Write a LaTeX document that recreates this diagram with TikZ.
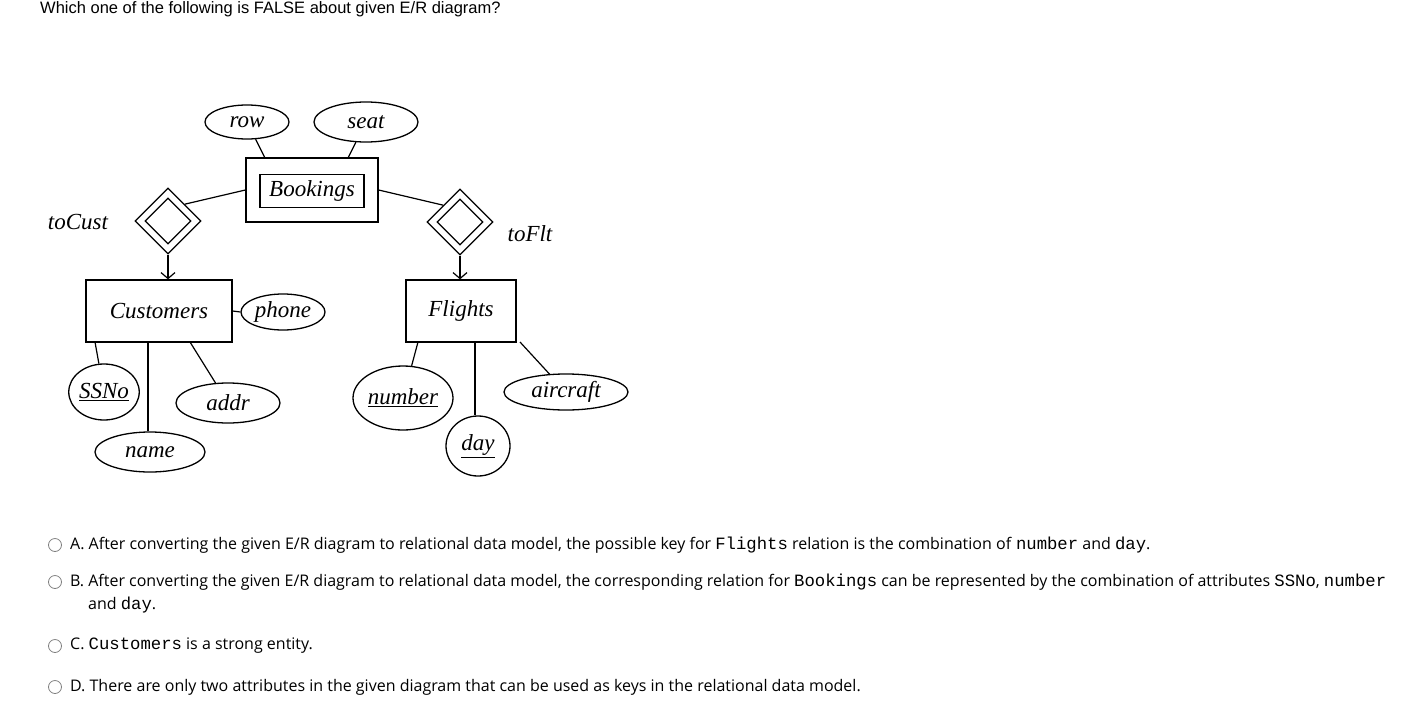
\documentclass[tikz,border=0pt]{standalone}
\usepackage{fontspec}
\setmainfont{Open Sans}
\newfontfamily\qfont{Liberation Sans}
\newfontfamily\erfont{Liberation Serif}
\setmonofont[Scale=1.08]{Liberation Mono}
\usetikzlibrary{shapes.geometric,arrows.meta}
\begin{document}
\begin{tikzpicture}[x=1pt,y=-1pt,
  er/.style={font=\erfont\itshape\fontsize{23}{25}\selectfont},
  attr/.style={draw,ellipse,er,inner sep=0pt,line width=1.3pt},
  ent/.style={draw,er,line width=1.3pt,inner sep=0pt},
  conn/.style={line width=1.2pt},
  opt/.style={anchor=west,font=\fontsize{16}{21}\selectfont,inner sep=0pt},
  radio/.style={draw=gray,circle,minimum size=13pt,inner sep=0pt,line width=0.8pt}]
\useasboundingbox (0,0) rectangle (1413,712);
\node[anchor=west,font=\qfont\fontsize{16.5}{18}\selectfont,inner sep=0pt] (q) at (40,9) {Which one of the following is FALSE about given E/R diagram?};
% entities
\node[ent,minimum width=132pt,minimum height=64pt] (bo) at (312,190) {};
\node[ent,minimum width=104pt,minimum height=33pt] (bi) at (312,191) {Bookings};
\node[ent,minimum width=146pt,minimum height=62pt] (cu) at (159,311) {Customers};
\node[ent,minimum width=110pt,minimum height=62pt] (fl) at (461,311) {Flights};
% relationships
\node[draw,diamond,minimum size=66pt,line width=1.3pt] (dc) at (168,221) {};
\node[draw,diamond,minimum size=46pt,line width=1.3pt] at (168,221) {};
\node[draw,diamond,minimum size=66pt,line width=1.3pt] (df) at (460,222) {};
\node[draw,diamond,minimum size=46pt,line width=1.3pt] at (460,222) {};
\node[er,inner sep=0pt] (tc) at (78,222) {toCust};
\node[er,inner sep=0pt] (tf) at (530,234) {toFlt};
% attributes
\node[attr,minimum width=84pt,minimum height=34pt] (row) at (247,122) {row};
\node[attr,minimum width=104pt,minimum height=40pt] (seat) at (366,122) {seat};
\node[attr,minimum width=84pt,minimum height=36pt] (ph) at (283,312) {phone};
\node[attr,minimum width=70pt,minimum height=56pt] (ss) at (104,392) {\underline{SSNo}};
\node[attr,minimum width=104pt,minimum height=40pt] (ad) at (228,403) {addr};
\node[attr,minimum width=110pt,minimum height=40pt] (na) at (150,452) {name};
\node[attr,minimum width=100pt,minimum height=64pt] (nu) at (403,398) {\underline{number}};
\node[attr,minimum width=64pt,minimum height=60pt] (dy) at (478,446) {\underline{day}};
\node[attr,minimum width=124pt,minimum height=36pt] (ac) at (566,392) {aircraft};
% connectors
\draw[conn] (row) -- (265,158);
\draw[conn] (seat) -- (348,158);
\draw[conn] (bo.west) -- (dc.north east);
\draw[conn] (bo.east) -- (df.north west);
\draw[conn,-{Straight Barb[length=6pt,width=14pt]}] (dc.south) -- (cu.north -| dc.south);
\draw[conn,-{Straight Barb[length=6pt,width=14pt]}] (df.south) -- (fl.north -| df.south);
\draw[conn] (cu.east) -- (ph.west);
\draw[conn] (95,342) -- (ss);
\draw[conn] (148,342) -- (na.north -| 148,0);
\draw[conn] (190,342) -- (ad);
\draw[conn] (418,342) -- (nu);
\draw[conn] (475,342) -- (dy.north -| 475,0);
\draw[conn] (520,342) -- (ac);
% options
\node[radio] (ra) at (55,545) {};
\node[opt] (oa) at (70,545) {A. After converting the given E/R diagram to relational data model, the possible key for \texttt{Flights} relation is the combination of \texttt{number} and \texttt{day}.};
\node[radio] (rb) at (55,582) {};
\node[opt] (ob) at (70,582) {B. After converting the given E/R diagram to relational data model, the corresponding relation for \texttt{Bookings} can be represented by the combination of attributes \texttt{SSNo}, \texttt{number}};
\node[opt] (ob2) at (88,605) {and \texttt{day}.};
\node[radio] (rc) at (55,646) {};
\node[opt] (oc) at (70,646) {C. \texttt{Customers} is a strong entity.};
\node[radio] (rd) at (55,687) {};
\node[opt] (od) at (70,687) {D. There are only two attributes in the given diagram that can be used as keys in the relational data model.};
\end{tikzpicture}
\end{document}
